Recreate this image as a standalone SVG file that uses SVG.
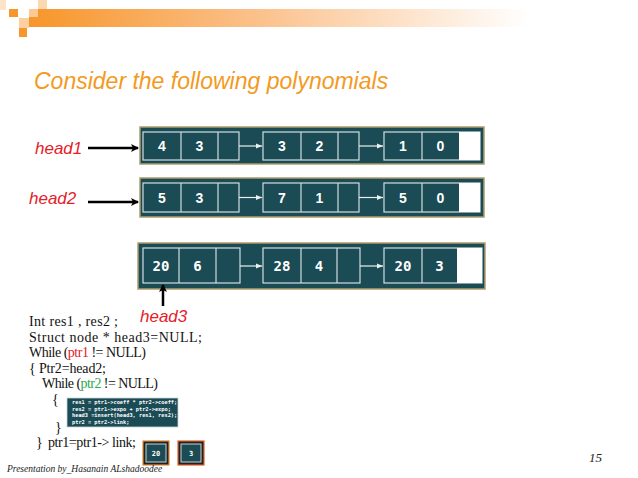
<svg xmlns="http://www.w3.org/2000/svg" width="638" height="478" viewBox="0 0 638 478">
<defs>
<linearGradient id="bar" x1="0" y1="0" x2="1" y2="0">
<stop offset="0" stop-color="#f7962a"/>
<stop offset="0.45" stop-color="#fbc08a"/>
<stop offset="1" stop-color="#ffffff"/>
</linearGradient>
<marker id="blk" markerWidth="8" markerHeight="8" refX="7" refY="4" orient="auto" markerUnits="userSpaceOnUse">
<path d="M0,0 L8,4 L0,8 L2,4 Z" fill="#000"/>
</marker>
<marker id="wht" markerWidth="6" markerHeight="6" refX="6" refY="3" orient="auto" markerUnits="userSpaceOnUse">
<path d="M0,0.5 L6,3 L0,5.5 Z" fill="#e8f0f0"/>
</marker>
<style>
.panel{fill:#1b4b55;stroke:#b09c6c;stroke-width:1.5}
.cell{fill:none;stroke:#d2dede;stroke-width:1.2}
.nul{fill:#ffffff}
.num{font-family:"Liberation Sans",Arial,sans-serif;font-weight:bold;font-size:14px;fill:#ffffff;text-anchor:middle}
.mono{font-family:"DejaVu Sans Mono","Liberation Mono",monospace;font-weight:bold;font-size:14px;fill:#ffffff;text-anchor:middle}
.lab{font-family:"Liberation Sans",Arial,sans-serif;font-style:italic;font-size:17px;fill:#e5202a}
.code{font-family:"Liberation Serif","Times New Roman",serif;font-size:14px;fill:#111}
.link{stroke:#e8f0f0;stroke-width:1.2;fill:none}
.ptr{stroke:#000;stroke-width:2.5;fill:none}
.small{font-family:"DejaVu Sans Mono","Liberation Mono",monospace;font-size:5.3px;fill:#ffffff;font-weight:bold}
</style>
</defs>
<rect width="638" height="478" fill="#ffffff"/>
<!-- header -->
<rect x="29" y="9" width="500" height="18" fill="url(#bar)"/>
<rect x="0" y="0" width="6" height="10" fill="#fde3c8"/>
<rect x="9" y="9" width="9" height="8" fill="#f7962a"/>
<rect x="29" y="9" width="9" height="8" fill="#fcc894"/>
<rect x="19" y="18" width="10" height="10" fill="#fcd0a0"/>
<rect x="19" y="28" width="8" height="9" fill="#f7962a"/>
<rect x="38" y="0" width="9" height="9" fill="#fcd8b0"/>
<text x="34" y="89" font-family="'Liberation Sans',Arial,sans-serif" font-style="italic" font-size="23" fill="#f39a22">Consider the following polynomials</text>

<!-- list 1 -->
<g id="list1">
<rect class="panel" x="140" y="127" width="344" height="37"/>
<rect class="cell" x="143" y="132" width="96" height="28"/>
<line class="cell" x1="181" y1="132" x2="181" y2="160"/>
<line class="cell" x1="218" y1="132" x2="218" y2="160"/>
<rect class="cell" x="263" y="132" width="96" height="28"/>
<line class="cell" x1="301" y1="132" x2="301" y2="160"/>
<line class="cell" x1="338" y1="132" x2="338" y2="160"/>
<rect class="cell" x="384" y="132" width="96" height="28"/>
<line class="cell" x1="422" y1="132" x2="422" y2="160"/>
<rect class="nul" x="459" y="132" width="21" height="28"/>
<text class="num" x="162" y="151">4</text>
<text class="num" x="199.5" y="151">3</text>
<text class="num" x="282" y="151">3</text>
<text class="num" x="319.5" y="151">2</text>
<text class="num" x="403" y="151">1</text>
<text class="num" x="440.5" y="151">0</text>
</g>

<!-- list 2 -->
<g id="list2">
<rect class="panel" x="140" y="178" width="344" height="39"/>
<rect class="cell" x="143" y="183" width="96" height="29"/>
<line class="cell" x1="181" y1="183" x2="181" y2="212"/>
<line class="cell" x1="218" y1="183" x2="218" y2="212"/>
<rect class="cell" x="263" y="183" width="96" height="29"/>
<line class="cell" x1="301" y1="183" x2="301" y2="212"/>
<line class="cell" x1="338" y1="183" x2="338" y2="212"/>
<rect class="cell" x="384" y="183" width="96" height="29"/>
<line class="cell" x1="422" y1="183" x2="422" y2="212"/>
<rect class="nul" x="459" y="183" width="21" height="29"/>
<text class="num" x="162" y="202.5">5</text>
<text class="num" x="199.5" y="202.5">3</text>
<text class="num" x="282" y="202.5">7</text>
<text class="num" x="319.5" y="202.5">1</text>
<text class="num" x="403" y="202.5">5</text>
<text class="num" x="440.5" y="202.5">0</text>
</g>

<!-- list 3 -->
<g id="list3">
<rect class="panel" x="138" y="243" width="347" height="46"/>
<rect class="cell" x="143" y="248" width="97" height="35"/>
<line class="cell" x1="179" y1="248" x2="179" y2="283"/>
<line class="cell" x1="216" y1="248" x2="216" y2="283"/>
<rect class="cell" x="263" y="248" width="97" height="35"/>
<line class="cell" x1="301" y1="248" x2="301" y2="283"/>
<line class="cell" x1="337" y1="248" x2="337" y2="283"/>
<rect class="cell" x="384" y="248" width="98" height="35"/>
<line class="cell" x1="422" y1="248" x2="422" y2="283"/>
<rect class="nul" x="457" y="248" width="25" height="35"/>
<text class="mono" x="161" y="271">20</text>
<text class="mono" x="197.5" y="271">6</text>
<text class="mono" x="282" y="271">28</text>
<text class="mono" x="319" y="271">4</text>
<text class="mono" x="403" y="271">20</text>
<text class="mono" x="439.5" y="271">3</text>
</g>

<!-- labels -->
<g id="head1"><text class="lab" x="35" y="154">head1</text></g>
<g id="head2"><text class="lab" x="29" y="204">head2</text></g>
<g id="head3"><text class="lab" x="140" y="322">head3</text></g>

<!-- connectors -->
<g id="connectors">
<line class="link" x1="239" y1="146" x2="262" y2="146" marker-end="url(#wht)"/>
<line class="link" x1="359" y1="146" x2="383" y2="146" marker-end="url(#wht)"/>
<line class="link" x1="239" y1="197.5" x2="262" y2="197.5" marker-end="url(#wht)"/>
<line class="link" x1="359" y1="197.5" x2="383" y2="197.5" marker-end="url(#wht)"/>
<line class="link" x1="240" y1="266" x2="262" y2="266" marker-end="url(#wht)"/>
<line class="link" x1="360" y1="266" x2="383" y2="266" marker-end="url(#wht)"/>
<line class="ptr" x1="88" y1="148" x2="138" y2="148" marker-end="url(#blk)"/>
<line class="ptr" x1="88" y1="202" x2="138" y2="202" marker-end="url(#blk)"/>
<line class="ptr" x1="163" y1="306" x2="163" y2="285" marker-end="url(#blk)"/>
</g>

<!-- code -->
<g id="code">
<text class="code" x="29" y="326" textLength="89">Int res1 , res2 ;</text>
<text class="code" x="29" y="341.5" textLength="173">Struct node * head3=NULL;</text>
<text class="code" x="29" y="357" textLength="117">While (<tspan fill="#e5202a">ptr1</tspan> != NULL)</text>
<text class="code" x="29" y="372.5" textLength="77">{  Ptr2=head2;</text>
<text class="code" x="42" y="388" textLength="116">While (<tspan fill="#2aa84a">ptr2</tspan> != NULL)</text>
<text class="code" x="52" y="404">{</text>
<text class="code" x="55" y="432">}</text>
<text class="code" x="36" y="447">}</text>
<text class="code" x="48" y="447" textLength="88">ptr1=ptr1-&gt; link;</text>
</g>

<g id="codebox">
<rect x="67" y="398" width="111" height="29" fill="#1b4b55" stroke="#c8d4d4" stroke-width="0.8"/>
<text class="small" x="72" y="404">res1 = ptr1-&gt;coeff * ptr2-&gt;coeff;</text>
<text class="small" x="72" y="410.5">res2 = ptr1-&gt;expo + ptr2-&gt;expo;</text>
<text class="small" x="72" y="417">head3 =insert(head3, res1, res2);</text>
<text class="small" x="72" y="423.5">ptr2 = ptr2-&gt;link;</text>
</g>

<g id="box20">
<rect x="143" y="441" width="26" height="24" fill="#222" stroke="#e08a3a" stroke-width="1.2"/>
<rect x="146" y="444" width="20" height="18" fill="#1b4b55" stroke="#c8d4d4" stroke-width="1"/>
<text x="156" y="456" font-family="'DejaVu Sans Mono',monospace" font-weight="bold" font-size="7" fill="#fff" text-anchor="middle">20</text>
</g>
<g id="box3">
<rect x="178" y="441" width="26" height="24" fill="#222" stroke="#e0602a" stroke-width="1.2"/>
<rect x="181" y="444" width="20" height="18" fill="#1b4b55" stroke="#c8d4d4" stroke-width="1"/>
<text x="191" y="456" font-family="'DejaVu Sans Mono',monospace" font-weight="bold" font-size="7" fill="#fff" text-anchor="middle">3</text>
</g>

<text x="7" y="472" font-family="'Liberation Serif',serif" font-style="italic" font-size="9.5" fill="#222">Presentation by_Hasanain ALshadoodee</text>
<text x="589" y="462" font-family="'Liberation Serif',serif" font-style="italic" font-size="13" fill="#222">15</text>
</svg>
